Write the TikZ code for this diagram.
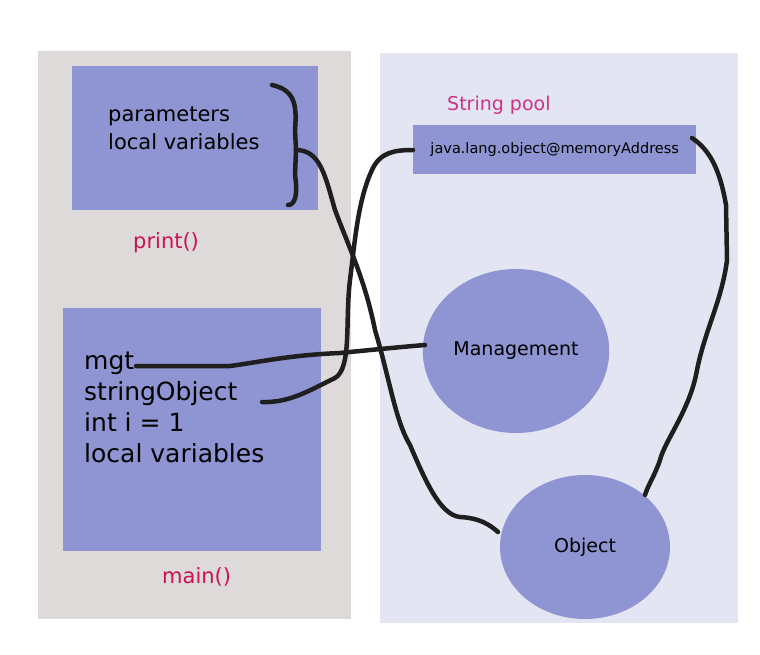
\documentclass[tikz,border=0pt]{standalone}
\usepackage{fontspec}
\setmainfont{DejaVu Sans}
\usetikzlibrary{shapes.geometric}
\begin{document}
\begin{tikzpicture}[x=1pt,y=-1pt,
  box/.style={fill=boxc,draw=none},
  pen/.style={line width=4.5pt,draw=black!88,line cap=round,line join=round},
  big/.style={font=\fontsize{25}{31}\selectfont,align=left,anchor=north west,inner sep=0},
  mid/.style={font=\fontsize{21}{28}\selectfont,align=left,anchor=north west,inner sep=0}]
\definecolor{boxc}{HTML}{8E95D2}
\definecolor{grayp}{HTML}{DEDAD9}
\definecolor{bluep}{HTML}{E4E5F3}
\definecolor{redt}{HTML}{CC1155}
\definecolor{pinkt}{HTML}{CC3388}
\useasboundingbox (0,0) rectangle (760,654);
\fill[white] (0,0) rectangle (760,654);
\fill[grayp] (38,51) rectangle (351,619);
\fill[bluep] (380,53) rectangle (738,623);
\node[box,minimum width=246,minimum height=144,anchor=north west] (pb) at (72,66) {};
\node[mid] (pt) at (108,107) {parameters\\local variables};
\node[mid,text=redt] (pn) at (133,232) {print()};
\node[box,minimum width=258,minimum height=243,anchor=north west] (mb) at (63,308) {};
\node[big] (mt) at (84,352) {mgt\\stringObject\\int i = 1\\local variables};
\node[mid,text=redt] (mn) at (162,567) {main()};
\node[mid,text=pinkt,font=\fontsize{19}{24}\selectfont] (sp) at (447,96) {String pool};
\node[box,minimum width=283,minimum height=49,anchor=north west,font=\fontsize{14.5}{18}\selectfont,inner sep=0] (jo) at (413,125) {java.lang.object@memoryAddress};
\node[ellipse,box,minimum width=186,minimum height=164,font=\fontsize{19}{24}\selectfont] (mg) at (516,351) {Management};
\node[ellipse,box,minimum width=170,minimum height=144,font=\fontsize{19}{24}\selectfont] (ob) at (585,547) {Object};
\coordinate (b1) at (272,85); \coordinate (b2) at (288,205);
\coordinate (bm) at (296,150);
\coordinate (m1) at (136,366); \coordinate (s1) at (262,402);
\coordinate (r1) at (692,138); \coordinate (r2) at (645,495);
\coordinate (o1) at (498,532); \coordinate (j1) at (413,150); \coordinate (g1) at (425,345);
\draw[pen] (b1) .. controls (295,90) and (297,105) .. (295,130) -- (bm) -- (295,175) .. controls (298,195) and (295,205) .. (b2);
\draw[pen] (bm) .. controls (320,150) and (325,175) .. (335,210) .. controls (350,250) and (365,280) .. (375,330) .. controls (390,380) and (395,420) .. (410,445) .. controls (425,480) and (440,515) .. (460,517) .. controls (480,518) and (490,525) .. (o1);
\draw[pen] (m1) -- (230,366) .. controls (260,362) and (290,355) .. (340,353) .. controls (370,350) and (400,347) .. (g1);
\draw[pen] (s1) .. controls (290,403) and (310,390) .. (335,378) .. controls (352,368) and (345,320) .. (350,280) .. controls (355,240) and (358,200) .. (372,170) .. controls (380,152) and (395,150) .. (j1);
\draw[pen] (r1) .. controls (710,150) and (720,170) .. (726,205) -- (727,260) .. controls (722,300) and (705,330) .. (697,370) .. controls (690,410) and (665,440) .. (660,460) .. controls (655,475) and (648,485) .. (r2);
\end{tikzpicture}
\end{document}
